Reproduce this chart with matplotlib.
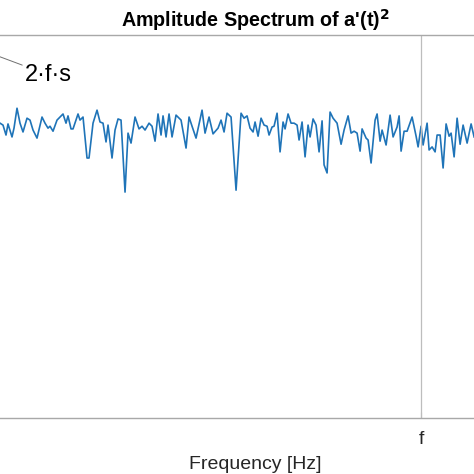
import matplotlib
matplotlib.use('Agg')
import matplotlib.pyplot as plt

plt.rcParams['font.family'] = ['Liberation Sans', 'DejaVu Sans']

# Частоты (Гц) и амплитуда спектра (отн. ед.)
freq = [0.0, 0.3, 0.6, 0.8, 1.2, 1.4, 1.7, 2.0, 2.3, 2.7, 3.0, 3.3, 3.7, 4.2, 4.5, 4.8,
        5.0, 5.3, 5.7, 6.0, 6.3, 6.6, 6.8, 7.1, 7.3, 7.8, 8.0, 8.3, 8.7, 8.9, 9.3, 9.7,
        10.0, 10.3, 10.6, 10.8, 11.2, 11.5, 11.8,
        12.1, 12.5, 12.8, 13.1, 13.5, 13.9, 14.2, 14.5, 14.9, 15.2, 15.5, 15.8, 16.1,
        16.3, 16.6, 16.9, 17.2, 17.6, 18.1, 18.6, 18.9, 19.2, 19.6, 20.2, 20.5, 20.9,
        21.3, 21.8, 22.1, 22.4, 22.7, 23.1, 23.6,
        24.1, 24.4, 24.7, 25.0, 25.3, 25.5, 25.8, 26.1, 26.4, 26.7, 26.9, 27.2, 27.4,
        27.7, 28.0, 28.3, 28.5, 28.8, 29.1, 29.4, 29.7, 29.9, 30.2, 30.5, 30.8, 31.0,
        31.3, 31.6, 31.9, 32.2, 32.4, 32.7, 33.0, 33.3, 33.7, 34.1, 34.4, 34.8, 35.1,
        35.4,
        35.7, 36.0, 36.2, 36.6, 36.8, 37.1, 37.5, 37.7, 38.0, 38.2, 38.6, 39.0, 39.3,
        39.7, 39.9, 40.1, 40.4, 40.7, 41.2, 41.6, 41.8, 42.1, 42.3, 42.7, 42.9, 43.2,
        43.5, 43.7, 44.0, 44.3, 44.6, 44.9, 45.1, 45.4, 45.7, 46.0, 46.3, 46.7, 47.1,
        47.4]
amp = [77.0, 76.5, 73.9, 76.8, 73.4, 75.7, 80.9, 77.0, 74.7, 78.3, 77.8, 75.2, 73.1, 78.6,
       77.0, 75.7, 76.2, 74.9, 77.8, 78.6, 79.4, 77.0, 78.9, 75.5, 75.5, 79.4, 77.8, 78.6,
       67.9, 67.9, 77.0, 80.4, 77.3, 77.0, 72.1, 76.5, 67.9, 75.2, 78.1,
       77.8, 59.0, 74.4, 71.8, 78.6, 75.5, 76.2, 75.2, 77.0, 76.2, 72.3, 79.4, 73.9,
       78.9, 73.4, 79.4, 73.4, 79.1, 77.8, 70.5, 78.6, 76.2, 73.1, 80.4, 74.4, 78.6,
       74.2, 75.7, 77.8, 74.7, 79.6, 78.6, 59.5,
       79.6, 78.3, 78.9, 75.7, 74.7, 77.3, 73.6, 78.3, 76.5, 76.2, 73.9, 76.0, 76.2,
       79.6, 69.5, 77.3, 75.5, 79.4, 77.0, 77.0, 76.5, 72.6, 77.3, 68.2, 76.5, 73.4,
       78.1, 76.5, 69.5, 77.6, 66.1, 64.0, 79.9, 78.3, 77.0, 71.5, 75.2, 78.9, 74.4,
       74.9,
       74.4, 69.7, 75.5, 73.1, 72.6, 66.6, 77.8, 79.4, 72.3, 75.2, 71.3, 79.1, 73.4,
       76.0, 78.9, 69.7, 74.9, 74.9, 78.6, 73.6, 70.8, 76.2, 71.3, 77.0, 70.0, 70.8,
       69.5, 73.9, 73.9, 65.3, 76.8, 73.6, 74.4, 68.2, 78.3, 71.5, 76.5, 71.8, 76.8,
       73.4]

f_mark = 42.1
tick_labels = ['f']

fig = plt.figure(figsize=(4.74, 4.74), dpi=100)
# оси шире картинки: левый и правый края обрезаны
ax = fig.add_axes([-0.0844, 0.118, 1.245, 0.808])

ax.plot(freq, amp, color='#1f74b8', linewidth=1.2)
ax.axvline(f_mark, color='#bdbdbd', linewidth=0.9)

ax.set_xlim(-4.0, 55.0)
ax.set_ylim(0, 100)

ax.set_xticks([f_mark])
ax.set_xticklabels(tick_labels, fontsize=14, color='#262626')
ax.set_yticks([])
ax.tick_params(axis='x', direction='in', length=4, color='#a0a0a0', pad=9)

for s in ['top', 'bottom']:
    ax.spines[s].set_color('#a8a8a8')
    ax.spines[s].set_linewidth(1.0)
for s in ['left', 'right']:
    ax.spines[s].set_visible(False)

ax.set_title("Amplitude Spectrum of a'(t)$\\mathbf{^2}$", fontsize=14.2,
             fontweight='bold', pad=6)
ax.set_xlabel('Frequency [Hz]', fontsize=14, color='#262626', labelpad=6)

ax.annotate('2·f·s', xy=(-1.0, 95.3), xytext=(2.5, 89.6), fontsize=17,
            va='center', ha='left', color='black',
            arrowprops=dict(arrowstyle='-', color='#707070', linewidth=0.7,
                            shrinkA=0, shrinkB=0))

fig.savefig('out.png', dpi=100)
